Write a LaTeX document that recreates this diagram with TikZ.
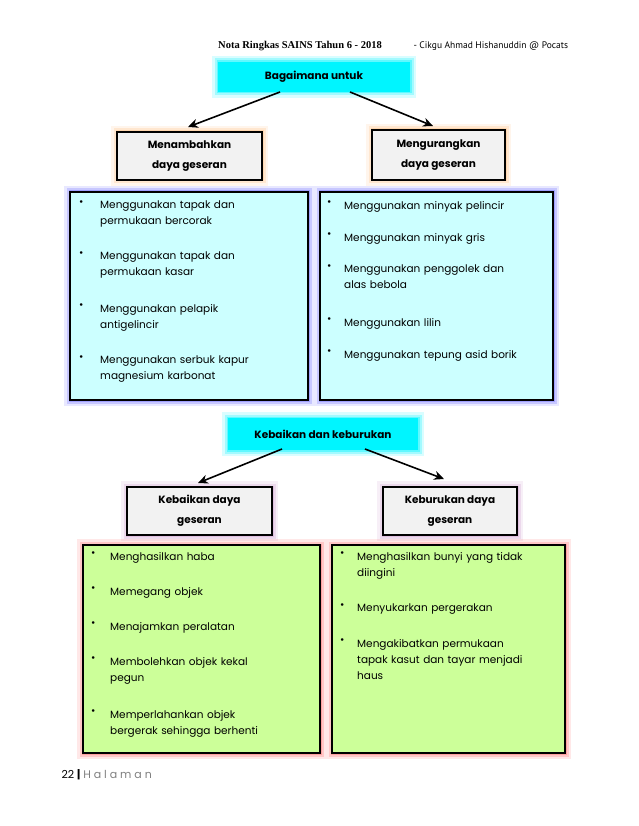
\documentclass[tikz,border=0pt]{standalone}
\usepackage{fontspec}
\usetikzlibrary{arrows.meta}
\setmainfont{Poppins}
\newfontfamily\hdrfont{Liberation Serif}
\newfontfamily\narrowfont{PT Sans}
\definecolor{cyanf}{HTML}{00F5FF}
\definecolor{blueb}{HTML}{CCFFFF}
\definecolor{greenb}{HTML}{CCFF99}
\begin{document}
\begin{tikzpicture}[x=1pt,y=-1pt,
  glow/.style={preaction={draw=#1,line width=12pt,opacity=0.15},preaction={draw=#1,line width=7pt,opacity=0.25},preaction={draw=#1,line width=3pt,opacity=0.4}},
  cyanbox/.style={fill=cyanf,glow=cyanf,font=\bfseries\fontsize{10.5}{12}\selectfont},
  headbox/.style={draw=black,line width=1.6pt,fill=gray!10,font=\bfseries\fontsize{10.5}{20}\selectfont,align=center},
  listbox/.style={draw=black,line width=1.6pt},
  item/.style={anchor=north west,inner sep=0pt,text width=#1,align=left,font=\fontsize{10.5}{16}\selectfont},
  arr/.style={-{Stealth[length=10pt,width=9pt]},line width=1.6pt}]
\useasboundingbox (0,0) rectangle (638,826);
\fill[white] (0,0) rectangle (638,826);
\node[font=\hdrfont\bfseries\fontsize{10.5}{12}\selectfont] (hdr) at (300,46) {Nota Ringkas SAINS Tahun 6 - 2018};
\node[font=\narrowfont\fontsize{9.5}{11}\selectfont,anchor=west] (auth) at (410,46) {- Cikgu Ahmad Hishanuddin @ Pocats};
% top section
\node[cyanbox,minimum width=192pt,minimum height=30pt] (q1) at (314,77) {Bagaimana untuk};
\node[headbox,glow=orange!50,minimum width=145pt,minimum height=48pt] (m1) at (189.5,156) {Menambahkan\\daya geseran};
\node[headbox,glow=orange!50,minimum width=133pt,minimum height=50pt] (m2) at (438.5,155) {Mengurangkan\\daya geseran};
\coordinate (a1) at (280,92); \coordinate (a2) at (350,92);
\draw[arr] (a1) -- (188,127);
\draw[arr] (a2) -- (433,126);
\draw[listbox,glow=blue!60,fill=blueb] (70,192) rectangle (308,400);
\draw[listbox,glow=blue!60,fill=blueb] (320,192) rectangle (553,400);
\foreach \y/\t in {201/{Menggunakan tapak dan\\permukaan bercorak},252/{Menggunakan tapak dan\\permukaan kasar},304/{Menggunakan pelapik\\antigelincir},356/{Menggunakan serbuk kapur\\magnesium karbonat}}{
  \node[item=10pt] at (79,\y) {\textbullet};
  \node[item=205pt] at (100,\y) {\t};}
\foreach \y/\t in {201/{Menggunakan minyak pelincir},233/{Menggunakan minyak gris},265/{Menggunakan penggolek dan\\alas bebola},318/{Menggunakan lilin},350/{Menggunakan tepung asid borik}}{
  \node[item=10pt] at (327,\y) {\textbullet};
  \node[item=210pt] at (344,\y) {\t};}
% bottom section
\node[cyanbox,minimum width=190pt,minimum height=32pt] (q2) at (323,434) {Kebaikan dan keburukan};
\node[headbox,glow=violet!40,minimum width=145pt,minimum height=48pt] (k1) at (199.5,511) {Kebaikan daya\\geseran};
\node[headbox,glow=violet!40,minimum width=134pt,minimum height=48pt] (k2) at (450,511) {Keburukan daya\\geseran};
\coordinate (b1) at (282,449); \coordinate (b2) at (365,449);
\draw[arr] (b1) -- (198,483);
\draw[arr] (b2) -- (444,479);
\draw[listbox,glow=red!60,fill=greenb] (83,545) rectangle (320,753);
\draw[listbox,glow=red!60,fill=greenb] (332,545) rectangle (565,753);
\foreach \y/\t in {552/{Menghasilkan haba},587/{Memegang objek},622/{Menajamkan peralatan},657/{Membolehkan objek kekal\\pegun},710/{Memperlahankan objek\\bergerak sehingga berhenti}}{
  \node[item=10pt] at (91,\y) {\textbullet};
  \node[item=205pt] at (110,\y) {\t};}
\foreach \y/\t in {552/{Menghasilkan bunyi yang tidak\\diingini},604/{Menyukarkan pergerakan},639/{Mengakibatkan permukaan\\tapak kasut dan tayar menjadi\\haus}}{
  \node[item=10pt] at (340,\y) {\textbullet};
  \node[item=205pt] at (357,\y) {\t};}
\node[anchor=west,font=\fontsize{11}{12}\selectfont] (ft) at (58,775) {22 \textbf{|} \textcolor{gray}{H a l a m a n}};
\end{tikzpicture}
\end{document}
